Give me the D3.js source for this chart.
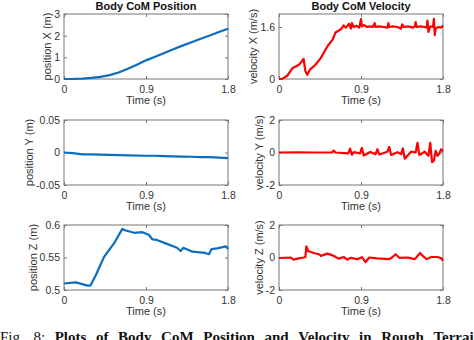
<!DOCTYPE html>
<html>
<head>
<meta charset="utf-8">
<script src="https://cdn.jsdelivr.net/npm/d3@7"></script>
<style>
  body { margin: 0; background: #fff; }
  svg { display: block; font-family: "Liberation Sans", Arial, sans-serif; }
  .tick text { fill: #333; font-size: 10.5px; }
</style>
</head>
<body>
<svg id="fig" width="474" height="340"></svg>
<script>
//////////// DATA ////////////

var xTicks = [0, 0.9, 1.8];

// position X (m)
var posXT = [0, 0.1, 0.2, 0.3, 0.4, 0.5, 0.6, 0.7, 0.8, 0.9, 1.0, 1.1, 1.2, 1.3, 1.4, 1.5, 1.6, 1.7, 1.8];
var posXV = [0, 0.005, 0.02, 0.05, 0.1, 0.18, 0.3, 0.47, 0.66, 0.86, 1.03, 1.2, 1.37, 1.54, 1.7, 1.86, 2.01, 2.17, 2.32];

// position Y (m)
var posYT = [0, 0.1, 0.2, 0.3, 0.5, 0.7, 0.9, 1.0, 1.1, 1.2, 1.3, 1.4, 1.5, 1.6, 1.7, 1.8];
var posYV = [0, -0.001, -0.0028, -0.003, -0.0038, -0.0045, -0.005, -0.005, -0.0055, -0.006, -0.0062, -0.0065, -0.0072, -0.0072, -0.008, -0.0088];

// position Z (m)
var posZT = [0, 0.13, 0.2, 0.255, 0.29, 0.35, 0.44, 0.55, 0.64, 0.67, 0.77, 0.86, 0.93, 0.97, 1.02, 1.13, 1.24, 1.28, 1.31, 1.41, 1.55, 1.59, 1.62, 1.68, 1.78, 1.8];
var posZV = [0.510, 0.5118, 0.509, 0.5067, 0.507, 0.523, 0.551, 0.572, 0.594, 0.592, 0.588, 0.589, 0.585, 0.578, 0.577, 0.571, 0.565, 0.560, 0.565, 0.559, 0.557, 0.555, 0.563, 0.564, 0.567, 0.563];

// velocity X (m/s)
var velXT = [0, 0.04, 0.09, 0.15, 0.22, 0.27, 0.29, 0.31, 0.34, 0.40, 0.46, 0.53, 0.59, 0.62, 0.68, 0.71, 0.73, 0.75, 0.77, 0.79, 0.8, 0.82, 0.85, 0.88, 0.9, 0.91, 0.93, 0.97, 1.0, 1.03, 1.05, 1.06, 1.1, 1.15, 1.19, 1.2, 1.21, 1.25, 1.3, 1.34, 1.35, 1.37, 1.42, 1.47, 1.49, 1.5, 1.51, 1.55, 1.6, 1.62, 1.63, 1.64, 1.66, 1.69, 1.7, 1.71, 1.72, 1.75, 1.78, 1.8];
var velXV = [0, 0.01, 0.1, 0.34, 0.44, 0.62, 0.24, 0.13, 0.29, 0.44, 0.65, 1.0, 1.22, 1.43, 1.53, 1.65, 1.58, 1.63, 1.7, 1.55, 1.72, 1.6, 1.64, 1.58, 1.84, 1.62, 1.66, 1.6, 1.62, 1.6, 1.72, 1.6, 1.62, 1.6, 1.58, 1.72, 1.6, 1.62, 1.6, 1.55, 1.68, 1.6, 1.62, 1.58, 1.62, 1.75, 1.6, 1.62, 1.6, 1.58, 1.8, 1.45, 1.62, 1.6, 1.85, 1.35, 1.55, 1.6, 1.58, 1.65];

// velocity Y (m/s)
var velYT = [0, 0.2, 0.4, 0.58, 0.6, 0.62, 0.76, 0.78, 0.8, 0.82, 0.89, 0.91, 0.93, 1.0, 1.06, 1.08, 1.1, 1.19, 1.21, 1.23, 1.3, 1.34, 1.36, 1.38, 1.45, 1.5, 1.52, 1.54, 1.6, 1.64, 1.66, 1.68, 1.7, 1.72, 1.74, 1.76, 1.78, 1.8];
var velYV = [0, 0.01, 0, 0, 0.12, 0, -0.05, 0.24, -0.14, 0.02, -0.05, 0.28, -0.18, 0.03, -0.1, 0.2, -0.12, 0.05, 0.34, -0.15, 0.02, -0.1, 0.25, -0.38, 0.05, 0.0, 0.6, -0.15, 0.05, -0.2, 0.6, -0.6, -0.5, 0.1, -0.2, -0.05, 0.2, 0.07];

// velocity Z (m/s)
var velZT = [0, 0.13, 0.16, 0.2, 0.27, 0.29, 0.30, 0.32, 0.38, 0.44, 0.46, 0.53, 0.59, 0.62, 0.66, 0.71, 0.75, 0.79, 0.86, 0.91, 0.95, 0.99, 1.08, 1.21, 1.24, 1.28, 1.32, 1.41, 1.49, 1.55, 1.58, 1.62, 1.67, 1.74, 1.78, 1.8];
var velZV = [-0.03, 0, -0.13, -0.07, 0, 0.03, 0.69, 0.4, 0.28, 0.2, 0.1, 0.24, 0.13, 0.03, -0.07, 0.03, -0.13, -0.02, -0.11, 0.02, -0.28, 0.0, -0.05, -0.1, 0.0, 0.2, -0.02, 0.0, -0.1, 0.28, 0.08, -0.1, 0.03, 0.03, -0.05, -0.2];

var panels = [
    {t: posXT, v: posXV, col: 0, row: 0, y: [0, 3], ticks: [0, 1, 2, 3], label: "position X (m)", color: "#0b6dbd"},
    {t: velXT, v: velXV, col: 1, row: 0, y: [0, 2], ticks: [0, 1.6], label: "velocity X (m/s)", color: "#ff0000"},
    {t: posYT, v: posYV, col: 0, row: 1, y: [-0.05, 0.05], ticks: [-0.05, 0, 0.05], label: "position Y (m)", color: "#0b6dbd"},
    {t: velYT, v: velYV, col: 1, row: 1, y: [-2, 2], ticks: [-2, 0, 2], label: "velocity Y (m/s)", color: "#ff0000"},
    {t: posZT, v: posZV, col: 0, row: 2, y: [0.5, 0.6], ticks: [0.5, 0.55, 0.6], label: "position Z (m)", color: "#0b6dbd"},
    {t: velZT, v: velZV, col: 1, row: 2, y: [-2, 2], ticks: [-2, 0, 2], label: "velocity Z (m/s)", color: "#ff0000"}
];

var titles = ["Body CoM Position", "Body CoM Velocity"];

var capWords = ["Fig.", "8:", "Plots", "of", "Body", "CoM", "Position", "and", "Velocity", "in", "Rough", "Terrain"];

//////////// LAYOUT ////////////

var svg = d3.select("#fig");
var colX = [64, 279], rowY = [14, 120, 225];
var pw = 164, ph = 65;
var axisColor = "#777";

function fmt(d) { return String(d); }

panels.forEach(function (p) {
    var g = svg.append("g")
        .attr("transform", "translate(" + colX[p.col] + "," + rowY[p.row] + ")");

    var x = d3.scaleLinear().domain([0, 1.8]).range([0, pw]);
    var y = d3.scaleLinear().domain(p.y).range([ph, 0]);

    // box
    g.append("rect")
        .attr("width", pw).attr("height", ph)
        .attr("fill", "none").attr("stroke", axisColor);

    // axes with inward ticks, mirrored on top/right like matlab "box on"
    var xa = g.append("g").attr("transform", "translate(0," + ph + ")")
        .call(d3.axisBottom(x).tickValues(xTicks).tickFormat(fmt).tickSize(-3).tickPadding(7));
    var xt = g.append("g")
        .call(d3.axisTop(x).tickValues(xTicks).tickFormat("").tickSize(-3));
    var ya = g.append("g")
        .call(d3.axisLeft(y).tickValues(p.ticks).tickFormat(fmt).tickSize(-3).tickPadding(4));
    var yr = g.append("g").attr("transform", "translate(" + pw + ",0)")
        .call(d3.axisRight(y).tickValues(p.ticks).tickFormat("").tickSize(-3));
    [xa, xt, ya, yr].forEach(function (a) {
        a.select(".domain").remove();
        a.selectAll("line").attr("stroke", axisColor);
    });

    // line
    var pts = p.t.map(function (t, i) { return [t, p.v[i]]; });
    g.append("path")
        .datum(pts)
        .attr("fill", "none")
        .attr("stroke", p.color)
        .attr("stroke-width", 2.2)
        .attr("stroke-linejoin", "round")
        .attr("d", d3.line().x(function (d) { return x(d[0]); }).y(function (d) { return y(d[1]); }));

    // labels
    g.append("text")
        .attr("x", pw / 2).attr("y", ph + 25)
        .attr("text-anchor", "middle")
        .attr("font-size", 11).attr("fill", "#333")
        .text("Time (s)");

    // y label sits just left of the widest tick label
    var minX = d3.min(ya.selectAll("text").nodes(), function (n) { return n.getBBox().x; });
    g.append("text")
        .attr("transform", "translate(" + (minX - 3) + "," + (ph / 2) + ") rotate(-90)")
        .attr("text-anchor", "middle")
        .attr("font-size", 11).attr("fill", "#333")
        .text(p.label);

    if (p.row === 0) {
        g.append("text")
            .attr("x", pw / 2).attr("y", -4)
            .attr("text-anchor", "middle")
            .attr("font-size", 11).attr("font-weight", "bold").attr("fill", "#111")
            .text(titles[p.col]);
    }
});

// caption, justified across the line and cut off at the bottom edge like the paper crop
var cap = svg.append("g").selectAll("text")
    .data(capWords)
    .enter().append("text")
    .attr("y", 342)
    .attr("font-family", "'Liberation Serif', 'Times New Roman', serif")
    .attr("font-size", 15)
    .attr("font-weight", function (d, i) { return i < 2 ? "normal" : "bold"; })
    .attr("fill", "#111")
    .text(function (d) { return d; });

var widths = cap.nodes().map(function (n) { return n.getComputedTextLength(); });
var lineEnd = 482;
var gap = (lineEnd - d3.sum(widths)) / (widths.length - 1);
var cx = 0;
cap.attr("x", function (d, i) {
    var pos = cx;
    cx += widths[i] + gap;
    return pos;
});
</script>
</body>
</html>
